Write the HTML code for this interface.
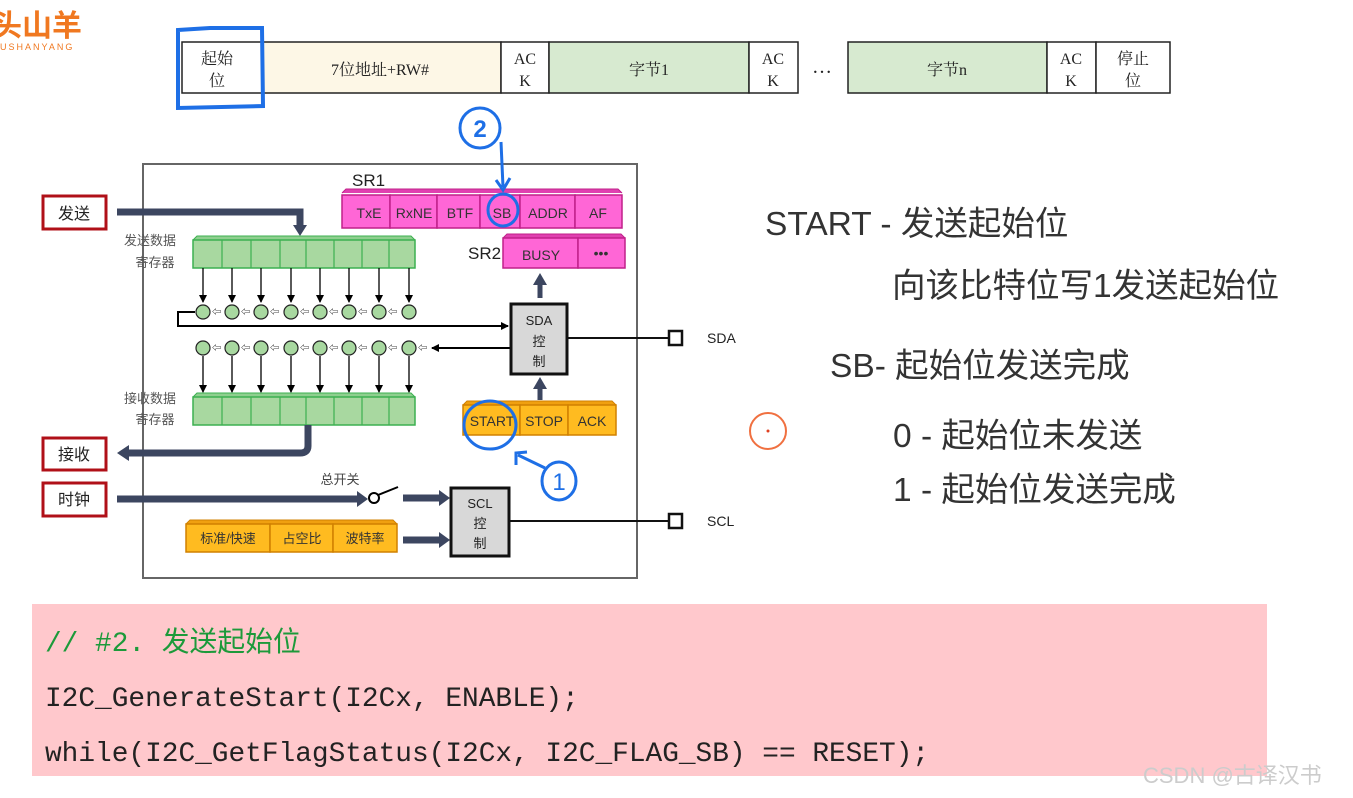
<!DOCTYPE html><html><head><meta charset="utf-8"><style>
body{margin:0;width:1353px;height:798px;background:#fff;overflow:hidden;font-family:"Liberation Sans","Noto Sans CJK SC",sans-serif}
</style></head><body>
<svg width="1353" height="798" viewBox="0 0 1353 798" xmlns="http://www.w3.org/2000/svg" style="position:absolute;left:0;top:0">
<defs>
<marker id="a" markerWidth="8" markerHeight="8" refX="7" refY="4" orient="auto" markerUnits="userSpaceOnUse"><path d="M0,0L8,4L0,8z" fill="#000"/></marker>
</defs>
<text x="-8" y="36" font-size="30" font-weight="bold" fill="#f07820" font-family="Noto Sans CJK SC,sans-serif">头山羊</text>
<text x="0" y="50" font-size="9" fill="#f07820" letter-spacing="2">USHANYANG</text>
<g font-family="Liberation Serif,Noto Serif CJK SC,serif" font-size="16" fill="#222" text-anchor="middle">
<rect x="182" y="42" width="80" height="51" fill="#fff" stroke="#222" stroke-width="1.5"/>
<rect x="262" y="42" width="239" height="51" fill="#fdf7e6" stroke="#222" stroke-width="1.5"/>
<rect x="501" y="42" width="48" height="51" fill="#fff" stroke="#222" stroke-width="1.5"/>
<rect x="549" y="42" width="200" height="51" fill="#d7ead0" stroke="#222" stroke-width="1.5"/>
<rect x="749" y="42" width="49" height="51" fill="#fff" stroke="#222" stroke-width="1.5"/>
<rect x="848" y="42" width="199" height="51" fill="#d7ead0" stroke="#222" stroke-width="1.5"/>
<rect x="1047" y="42" width="49" height="51" fill="#fff" stroke="#222" stroke-width="1.5"/>
<rect x="1096" y="42" width="74" height="51" fill="#fff" stroke="#222" stroke-width="1.5"/>
<text x="217" y="64">起始</text><text x="217" y="86">位</text>
<text x="380" y="75">7位地址+RW#</text>
<text x="525" y="64">AC</text><text x="525" y="86">K</text>
<text x="649" y="75">字节1</text>
<text x="773" y="64">AC</text><text x="773" y="86">K</text>
<text x="822" y="73" font-size="20">…</text>
<text x="947" y="75">字节n</text>
<text x="1071" y="64">AC</text><text x="1071" y="86">K</text>
<text x="1133" y="64">停止</text><text x="1133" y="86">位</text>
</g>
<path d="M178,30 L210,28 L262,28 L263,106 L178,108 Z" fill="none" stroke="#1e6fe6" stroke-width="4"/>
<rect x="143" y="164" width="494" height="414" fill="none" stroke="#666" stroke-width="2"/>
<text x="352" y="186" font-size="17" fill="#222">SR1</text>
<path d="M342,193 L346,189 L618,189 L622,193" fill="#e040b0" stroke="#c0208a"/>
<g stroke="#c0208a" stroke-width="1.5" fill="#ff66d6">
<rect x="342" y="195" width="48" height="33"/><rect x="390" y="195" width="47" height="33"/><rect x="437" y="195" width="43" height="33"/><rect x="480" y="195" width="40" height="33"/><rect x="520" y="195" width="55" height="33"/><rect x="575" y="195" width="47" height="33"/>
</g>
<g font-size="14" fill="#333" text-anchor="middle"><text x="369" y="218">TxE</text><text x="414" y="218">RxNE</text><text x="460" y="218">BTF</text><text x="502" y="218">SB</text><text x="548" y="218">ADDR</text><text x="598" y="218">AF</text></g>
<text x="468" y="259" font-size="17" fill="#222">SR2</text>
<path d="M503,238 L507,234 L621,234 L625,238" fill="#e040b0" stroke="#c0208a"/>
<g stroke="#c0208a" stroke-width="1.5" fill="#ff66d6"><rect x="503" y="238" width="75" height="30"/><rect x="578" y="238" width="47" height="30"/></g>
<text x="541" y="260" font-size="14" fill="#333" text-anchor="middle">BUSY</text><text x="601" y="258" font-size="14" fill="#333" text-anchor="middle">•••</text>
<circle cx="480" cy="128" r="20" fill="none" stroke="#1e6fe6" stroke-width="3"/>
<text x="480" y="137" font-size="24" fill="#1e6fe6" text-anchor="middle" font-weight="bold">2</text>
<path d="M501,142 L503,187 M496,180 L503,190 L510,178" fill="none" stroke="#1e6fe6" stroke-width="3"/>
<ellipse cx="503" cy="210" rx="15" ry="16" fill="none" stroke="#1e6fe6" stroke-width="3"/>
<rect x="43" y="196" width="63" height="33" fill="#fff" stroke="#b01018" stroke-width="3"/>
<text x="74" y="219" font-size="16" text-anchor="middle" fill="#222">发送</text>
<path d="M117,212 L300,212 L300,226" fill="none" stroke="#3c4660" stroke-width="7"/>
<path d="M293,225 L307,225 L300,236z" fill="#3c4660"/>
<g font-size="13" fill="#555" text-anchor="middle"><text x="150" y="245">发送数据</text><text x="155" y="267">寄存器</text><text x="150" y="403">接收数据</text><text x="155" y="424">寄存器</text></g>
<path d="M193,240 L197,236 L411,236 L415,240" fill="#8fcf8f" stroke="#3cb050"/>
<rect x="193" y="240" width="222" height="28" fill="#a8d8a0" stroke="#3cb050" stroke-width="1.5"/>
<g stroke="#3cb050" stroke-width="1.2">
<line x1="222" y1="240" x2="222" y2="268"/><line x1="251" y1="240" x2="251" y2="268"/><line x1="280" y1="240" x2="280" y2="268"/><line x1="306" y1="240" x2="306" y2="268"/><line x1="334" y1="240" x2="334" y2="268"/><line x1="362" y1="240" x2="362" y2="268"/><line x1="389" y1="240" x2="389" y2="268"/>
</g>
<path d="M193,397 L197,393 L411,393 L415,397" fill="#8fcf8f" stroke="#3cb050"/>
<rect x="193" y="397" width="222" height="28" fill="#a8d8a0" stroke="#3cb050" stroke-width="1.5"/>
<g stroke="#3cb050" stroke-width="1.2">
<line x1="222" y1="397" x2="222" y2="425"/><line x1="251" y1="397" x2="251" y2="425"/><line x1="280" y1="397" x2="280" y2="425"/><line x1="306" y1="397" x2="306" y2="425"/><line x1="334" y1="397" x2="334" y2="425"/><line x1="362" y1="397" x2="362" y2="425"/><line x1="389" y1="397" x2="389" y2="425"/>
</g>
<g stroke="#000" stroke-width="1.3" marker-end="url(#a)">
<line x1="203" y1="268" x2="203" y2="302"/><line x1="232" y1="268" x2="232" y2="302"/><line x1="261" y1="268" x2="261" y2="302"/><line x1="291" y1="268" x2="291" y2="302"/><line x1="320" y1="268" x2="320" y2="302"/><line x1="349" y1="268" x2="349" y2="302"/><line x1="379" y1="268" x2="379" y2="302"/><line x1="409" y1="268" x2="409" y2="302"/>
<line x1="203" y1="356" x2="203" y2="392"/><line x1="232" y1="356" x2="232" y2="392"/><line x1="261" y1="356" x2="261" y2="392"/><line x1="291" y1="356" x2="291" y2="392"/><line x1="320" y1="356" x2="320" y2="392"/><line x1="349" y1="356" x2="349" y2="392"/><line x1="379" y1="356" x2="379" y2="392"/><line x1="409" y1="356" x2="409" y2="392"/>
</g>
<path d="M195,312 L178,312 L178,326 L508,326" fill="none" stroke="#000" stroke-width="2" marker-end="url(#a)"/>
<path d="M510,348 L432,348" fill="none" stroke="#000" stroke-width="2" marker-end="url(#a)"/>
<g fill="#a8d8a0" stroke="#222" stroke-width="1.2">
<circle cx="203" cy="312" r="7"/><circle cx="232" cy="312" r="7"/><circle cx="261" cy="312" r="7"/><circle cx="291" cy="312" r="7"/><circle cx="320" cy="312" r="7"/><circle cx="349" cy="312" r="7"/><circle cx="379" cy="312" r="7"/><circle cx="409" cy="312" r="7"/>
<circle cx="203" cy="348" r="7"/><circle cx="232" cy="348" r="7"/><circle cx="261" cy="348" r="7"/><circle cx="291" cy="348" r="7"/><circle cx="320" cy="348" r="7"/><circle cx="349" cy="348" r="7"/><circle cx="379" cy="348" r="7"/><circle cx="409" cy="348" r="7"/>
</g>
<g fill="#000" font-size="9"><text x="212" y="315">⇦</text><text x="241" y="315">⇦</text><text x="270" y="315">⇦</text><text x="300" y="315">⇦</text><text x="329" y="315">⇦</text><text x="358" y="315">⇦</text><text x="388" y="315">⇦</text>
<text x="212" y="351">⇦</text><text x="241" y="351">⇦</text><text x="270" y="351">⇦</text><text x="300" y="351">⇦</text><text x="329" y="351">⇦</text><text x="358" y="351">⇦</text><text x="388" y="351">⇦</text><text x="418" y="351">⇦</text></g>
<rect x="511" y="304" width="56" height="70" fill="#d8d8d8" stroke="#111" stroke-width="3"/>
<g font-size="13" fill="#222" text-anchor="middle"><text x="539" y="325">SDA</text><text x="539" y="346">控</text><text x="539" y="366">制</text></g>
<line x1="567" y1="338" x2="669" y2="338" stroke="#111" stroke-width="2"/>
<rect x="669" y="331" width="13" height="14" fill="#fff" stroke="#111" stroke-width="2.5"/>
<text x="707" y="343" font-size="14" fill="#222">SDA</text>
<path d="M540,298 L540,284" stroke="#3c4660" stroke-width="5"/><path d="M533,285 L547,285 L540,273z" fill="#3c4660"/>
<path d="M540,400 L540,388" stroke="#3c4660" stroke-width="5"/><path d="M533,389 L547,389 L540,377z" fill="#3c4660"/>
<path d="M463,405 L467,401 L612,401 L616,405" fill="#f0a010" stroke="#d08000"/>
<g fill="#ffbb20" stroke="#d08000" stroke-width="1.5"><rect x="463" y="405" width="57" height="30"/><rect x="520" y="405" width="48" height="30"/><rect x="568" y="405" width="48" height="30"/></g>
<g font-size="14" fill="#333" text-anchor="middle"><text x="492" y="426">START</text><text x="544" y="426">STOP</text><text x="592" y="426">ACK</text></g>
<ellipse cx="490" cy="425" rx="26" ry="24" fill="none" stroke="#1e6fe6" stroke-width="3"/>
<ellipse cx="559" cy="481" rx="17" ry="19" fill="none" stroke="#1e6fe6" stroke-width="3"/>
<text x="559" y="490" font-size="24" fill="#1e6fe6" text-anchor="middle">1</text>
<path d="M545,468 L518,455 M516,465 L516,453 L527,452" fill="none" stroke="#1e6fe6" stroke-width="3"/>
<path d="M308,425 L308,446 Q308,453 300,453 L128,453" fill="none" stroke="#3c4660" stroke-width="7"/>
<path d="M129,445 L129,461 L117,453z" fill="#3c4660"/>
<rect x="43" y="438" width="63" height="32" fill="#fff" stroke="#b01018" stroke-width="3"/>
<text x="74" y="460" font-size="16" text-anchor="middle" fill="#222">接收</text>
<rect x="43" y="483" width="63" height="33" fill="#fff" stroke="#b01018" stroke-width="3"/>
<text x="74" y="505" font-size="16" text-anchor="middle" fill="#222">时钟</text>
<path d="M117,499 L358,499" stroke="#3c4660" stroke-width="7"/><path d="M357,491 L357,507 L368,499z" fill="#3c4660"/>
<circle cx="374" cy="498" r="5" fill="#fff" stroke="#000" stroke-width="2"/>
<line x1="378" y1="495" x2="398" y2="487" stroke="#000" stroke-width="2"/>
<text x="340" y="484" font-size="13" fill="#444" text-anchor="middle">总开关</text>
<path d="M403,498 L440,498" stroke="#3c4660" stroke-width="7"/><path d="M439,490 L439,506 L450,498z" fill="#3c4660"/>
<path d="M403,540 L440,540" stroke="#3c4660" stroke-width="7"/><path d="M439,532 L439,548 L450,540z" fill="#3c4660"/>
<path d="M186,524 L190,520 L393,520 L397,524" fill="#f0a010" stroke="#d08000"/>
<g fill="#ffbb20" stroke="#d08000" stroke-width="1.5"><rect x="186" y="524" width="84" height="28"/><rect x="270" y="524" width="63" height="28"/><rect x="333" y="524" width="64" height="28"/></g>
<g font-size="13" fill="#333" text-anchor="middle"><text x="228" y="543">标准/快速</text><text x="302" y="543">占空比</text><text x="365" y="543">波特率</text></g>
<rect x="451" y="488" width="58" height="68" fill="#d8d8d8" stroke="#111" stroke-width="3"/>
<g font-size="13" fill="#222" text-anchor="middle"><text x="480" y="508">SCL</text><text x="480" y="528">控</text><text x="480" y="548">制</text></g>
<line x1="509" y1="521" x2="669" y2="521" stroke="#111" stroke-width="2"/>
<rect x="669" y="514" width="13" height="14" fill="#fff" stroke="#111" stroke-width="2.5"/>
<text x="707" y="526" font-size="14" fill="#222">SCL</text>
<g font-size="33.5" fill="#333">
<text x="765" y="235">START - 发送起始位</text>
<text x="892" y="297">向该比特位写1发送起始位</text>
<text x="830" y="377">SB- 起始位发送完成</text>
<text x="893" y="447">0 - 起始位未发送</text>
<text x="893" y="501">1 - 起始位发送完成</text>
</g>
<circle cx="768" cy="431" r="18" fill="none" stroke="#f07040" stroke-width="2"/>
<circle cx="768" cy="431" r="1.5" fill="#e04020"/>
<rect x="32" y="604" width="1235" height="172" fill="#ffc8cc"/>
<g font-family="Liberation Mono,Noto Sans CJK SC,monospace" font-size="27.8">
<text x="45" y="651" fill="#1c9a3a">// #2. 发送起始位</text>
<text x="45" y="706" fill="#222">I2C_GenerateStart(I2Cx, ENABLE);</text>
<text x="45" y="761" fill="#222">while(I2C_GetFlagStatus(I2Cx, I2C_FLAG_SB) == RESET);</text>
</g>
<text x="1143" y="783" font-size="22" fill="#ccc">CSDN @古译汉书</text>
</svg>
</body></html>
